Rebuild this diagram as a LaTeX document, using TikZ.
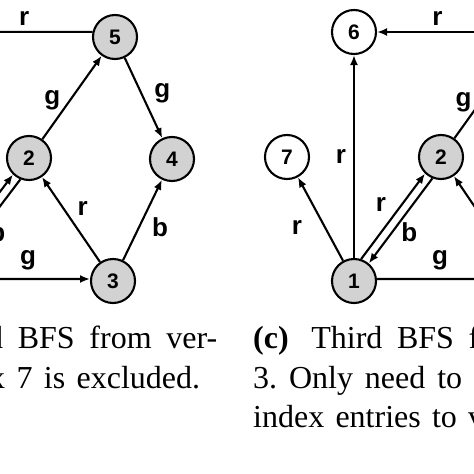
\documentclass[tikz,border=0pt]{standalone}
\usepackage{fontspec}
\setmainfont{Liberation Serif}
\newfontfamily\graphfont{Liberation Sans}
\usetikzlibrary{arrows.meta}

\tikzset{
  vtx/.style={circle, draw, line width=2.1pt, minimum size=44pt, inner sep=0pt,
    font=\graphfont\bfseries\fontsize{21}{21}\selectfont},
  seen/.style={vtx, fill=gray!35},
  lbl/.style={inner sep=0pt, font=\graphfont\bfseries\fontsize{26}{26}\selectfont},
  arc/.style={line width=2.1pt, -{Latex[length=10pt,width=8pt]}},
  bare/.style={line width=2.1pt},
  capline/.style={inner sep=0pt, anchor=base west,
    font=\fontsize{32}{38}\selectfont\frenchspacing}
}

\begin{document}
\begin{tikzpicture}[x=1pt, y=-1pt]
    \useasboundingbox (0,0) rectangle (474,474);
    \clip (0,0) rectangle (474,474);

    % (b)
    \node[seen] (n2) at (29, 158) {2};
    \node[seen] (n3) at (113, 281) {3};
    \node[seen] (n4) at (172, 159) {4};
    \node[seen] (n5) at (115, 37) {5};
    \coordinate (L6) at (-44, 32);
    \coordinate (L1g) at (-34, 279);
    \coordinate (L1a) at (-51, 259);
    \coordinate (L1b) at (-43, 263);

    \draw[bare] (L6) -- (n5.167) node[lbl, midway, above=5pt] (lr65) {r};
    \draw[arc] (L1g) -- (n3.175) node[lbl, midway, above=8pt] (lg13) {g};
    \draw[arc] (n2) -- (n5) node[lbl, pos=.47, left=9pt] (lg25) {g};
    \draw[arc] (n5) -- (n4) node[lbl, pos=.44, right=12pt] (lg54) {g};
    \draw[arc] (n3) -- (n2) node[lbl, pos=.63, right=13pt] (lr32) {r};
    \draw[arc] (n3) -- (n4) node[lbl, pos=.41, right=12pt] (lb34) {b};
    \draw[arc] (L1a) -- (n2.226);
    \draw[arc] (n2.248) -- (L1b) node[lbl, pos=.63, right=8pt] (lb21) {b};

    % (c)
    \node[seen] (r1) at (354, 281) {1};
    \node[seen] (r2) at (441, 157) {2};
    \node[vtx] (r6) at (354, 32) {6};
    \node[vtx] (r7) at (287, 157) {7};
    \coordinate (R6in) at (498, 32);
    \coordinate (R3g) at (503, 279);
    \coordinate (R5) at (527, 37);
    \coordinate (R3) at (525, 281);

    \draw[arc] (R6in) -- (r6) node[lbl, midway, above=5pt] (rr56) {r};
    \draw[arc] (r1) -- (r6) node[lbl, midway, left=7pt] (rr16) {r};
    \draw[arc] (r1) -- (r7) node[lbl, pos=.40, left=22pt] (rr17) {r};
    \draw[arc] (r1.72) -- (r2.226) node[lbl, pos=.64, left=15pt] (rr12) {r};
    \draw[arc] (r2.248) -- (r1.50) node[lbl, pos=.63, right=8pt] (rb21) {b};
    \draw[bare] (r1.5) -- (R3g) node[lbl, midway, above=8pt] (rg13) {g};
    \draw[bare] (r2) -- (R5) node[lbl, pos=.36, left=8pt] (rg25) {g};
    \draw[arc] (R3) -- (r2);

    % captions
    \node[capline] (capb1) at (-13, 348) {\makebox[230pt][s]{d BFS from ver-}};
    \node[capline] (capb2) at (-11, 388) {\makebox[211pt][s]{x 7 is excluded.}};
    \node[capline] (capc1) at (253, 348) {\makebox[226pt][s]{\textbf{(c)}\hspace{8pt} Third BFS f}};
    \node[capline] (capc2) at (253, 388) {\makebox[209pt][s]{3. Only need to}};
    \node[capline] (capc3) at (253, 427) {\makebox[231pt][s]{index entries to v}};
\end{tikzpicture}
\end{document}
